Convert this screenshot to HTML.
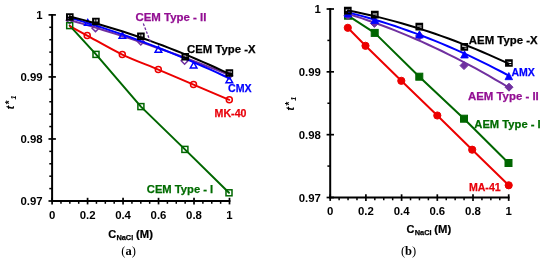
<!DOCTYPE html>
<html><head><meta charset="utf-8"><title>Transport numbers</title>
<style>
html,body{margin:0;padding:0;background:#fff;}
body{width:550px;height:262px;overflow:hidden;}
svg{display:block;}
</style></head><body>
<svg width="550" height="262" viewBox="0 0 550 262" font-family="'Liberation Sans', Arial, sans-serif">
<rect width="550" height="262" fill="#fff"/>
<line x1="52.1" y1="14" x2="52.1" y2="202" stroke="#000" stroke-width="2"/>
<line x1="51.1" y1="201" x2="230.4" y2="201" stroke="#000" stroke-width="2"/>
<line x1="48.5" y1="14.9" x2="55.9" y2="14.9" stroke="#000" stroke-width="1.7"/>
<line x1="49.3" y1="27.31" x2="52.1" y2="27.31" stroke="#000" stroke-width="1.5"/>
<line x1="49.3" y1="39.71" x2="52.1" y2="39.71" stroke="#000" stroke-width="1.5"/>
<line x1="49.3" y1="52.12" x2="52.1" y2="52.12" stroke="#000" stroke-width="1.5"/>
<line x1="49.3" y1="64.53" x2="52.1" y2="64.53" stroke="#000" stroke-width="1.5"/>
<line x1="48.5" y1="76.93" x2="55.9" y2="76.93" stroke="#000" stroke-width="1.7"/>
<line x1="49.3" y1="89.34" x2="52.1" y2="89.34" stroke="#000" stroke-width="1.5"/>
<line x1="49.3" y1="101.75" x2="52.1" y2="101.75" stroke="#000" stroke-width="1.5"/>
<line x1="49.3" y1="114.15" x2="52.1" y2="114.15" stroke="#000" stroke-width="1.5"/>
<line x1="49.3" y1="126.56" x2="52.1" y2="126.56" stroke="#000" stroke-width="1.5"/>
<line x1="48.5" y1="138.97" x2="55.9" y2="138.97" stroke="#000" stroke-width="1.7"/>
<line x1="49.3" y1="151.37" x2="52.1" y2="151.37" stroke="#000" stroke-width="1.5"/>
<line x1="49.3" y1="163.78" x2="52.1" y2="163.78" stroke="#000" stroke-width="1.5"/>
<line x1="49.3" y1="176.19" x2="52.1" y2="176.19" stroke="#000" stroke-width="1.5"/>
<line x1="49.3" y1="188.59" x2="52.1" y2="188.59" stroke="#000" stroke-width="1.5"/>
<line x1="48.5" y1="201" x2="55.9" y2="201" stroke="#000" stroke-width="1.7"/>
<text x="42.6" y="18.9" font-size="11.4" fill="#000" text-anchor="end" font-weight="bold" >1</text>
<text x="42.6" y="80.93" font-size="11.4" fill="#000" text-anchor="end" font-weight="bold" >0.99</text>
<text x="42.6" y="142.97" font-size="11.4" fill="#000" text-anchor="end" font-weight="bold" >0.98</text>
<text x="42.6" y="205" font-size="11.4" fill="#000" text-anchor="end" font-weight="bold" >0.97</text>
<line x1="52.1" y1="197.8" x2="52.1" y2="204.4" stroke="#000" stroke-width="1.7"/>
<line x1="60.97" y1="201" x2="60.97" y2="203.8" stroke="#000" stroke-width="1.5"/>
<line x1="69.84" y1="201" x2="69.84" y2="203.8" stroke="#000" stroke-width="1.5"/>
<line x1="78.71" y1="201" x2="78.71" y2="203.8" stroke="#000" stroke-width="1.5"/>
<text x="52.1" y="218.6" font-size="11.4" fill="#000" text-anchor="middle" font-weight="bold" >0</text>
<line x1="87.58" y1="197.8" x2="87.58" y2="204.4" stroke="#000" stroke-width="1.7"/>
<line x1="96.45" y1="201" x2="96.45" y2="203.8" stroke="#000" stroke-width="1.5"/>
<line x1="105.32" y1="201" x2="105.32" y2="203.8" stroke="#000" stroke-width="1.5"/>
<line x1="114.19" y1="201" x2="114.19" y2="203.8" stroke="#000" stroke-width="1.5"/>
<text x="87.58" y="218.6" font-size="11.4" fill="#000" text-anchor="middle" font-weight="bold" >0.2</text>
<line x1="123.06" y1="197.8" x2="123.06" y2="204.4" stroke="#000" stroke-width="1.7"/>
<line x1="131.93" y1="201" x2="131.93" y2="203.8" stroke="#000" stroke-width="1.5"/>
<line x1="140.8" y1="201" x2="140.8" y2="203.8" stroke="#000" stroke-width="1.5"/>
<line x1="149.67" y1="201" x2="149.67" y2="203.8" stroke="#000" stroke-width="1.5"/>
<text x="123.06" y="218.6" font-size="11.4" fill="#000" text-anchor="middle" font-weight="bold" >0.4</text>
<line x1="158.54" y1="197.8" x2="158.54" y2="204.4" stroke="#000" stroke-width="1.7"/>
<line x1="167.41" y1="201" x2="167.41" y2="203.8" stroke="#000" stroke-width="1.5"/>
<line x1="176.28" y1="201" x2="176.28" y2="203.8" stroke="#000" stroke-width="1.5"/>
<line x1="185.15" y1="201" x2="185.15" y2="203.8" stroke="#000" stroke-width="1.5"/>
<text x="158.54" y="218.6" font-size="11.4" fill="#000" text-anchor="middle" font-weight="bold" >0.6</text>
<line x1="194.02" y1="197.8" x2="194.02" y2="204.4" stroke="#000" stroke-width="1.7"/>
<line x1="202.89" y1="201" x2="202.89" y2="203.8" stroke="#000" stroke-width="1.5"/>
<line x1="211.76" y1="201" x2="211.76" y2="203.8" stroke="#000" stroke-width="1.5"/>
<line x1="220.63" y1="201" x2="220.63" y2="203.8" stroke="#000" stroke-width="1.5"/>
<text x="194.02" y="218.6" font-size="11.4" fill="#000" text-anchor="middle" font-weight="bold" >0.8</text>
<line x1="229.5" y1="197.8" x2="229.5" y2="204.4" stroke="#000" stroke-width="1.7"/>
<text x="229.5" y="218.6" font-size="11.4" fill="#000" text-anchor="middle" font-weight="bold" >1</text>
<line x1="330.2" y1="8.1" x2="330.2" y2="198.5" stroke="#000" stroke-width="2"/>
<line x1="329.2" y1="197.5" x2="509.6" y2="197.5" stroke="#000" stroke-width="2"/>
<line x1="326.6" y1="9" x2="334" y2="9" stroke="#000" stroke-width="1.7"/>
<line x1="327.4" y1="40.42" x2="330.2" y2="40.42" stroke="#000" stroke-width="1.5"/>
<line x1="326.6" y1="71.83" x2="334" y2="71.83" stroke="#000" stroke-width="1.7"/>
<line x1="327.4" y1="103.25" x2="330.2" y2="103.25" stroke="#000" stroke-width="1.5"/>
<line x1="326.6" y1="134.67" x2="334" y2="134.67" stroke="#000" stroke-width="1.7"/>
<line x1="327.4" y1="166.08" x2="330.2" y2="166.08" stroke="#000" stroke-width="1.5"/>
<line x1="326.6" y1="197.5" x2="334" y2="197.5" stroke="#000" stroke-width="1.7"/>
<text x="320.9" y="13" font-size="11.4" fill="#000" text-anchor="end" font-weight="bold" >1</text>
<text x="320.9" y="75.83" font-size="11.4" fill="#000" text-anchor="end" font-weight="bold" >0.99</text>
<text x="320.9" y="138.67" font-size="11.4" fill="#000" text-anchor="end" font-weight="bold" >0.98</text>
<text x="320.9" y="201.5" font-size="11.4" fill="#000" text-anchor="end" font-weight="bold" >0.97</text>
<line x1="330.2" y1="194.3" x2="330.2" y2="200.9" stroke="#000" stroke-width="1.7"/>
<line x1="339.12" y1="197.5" x2="339.12" y2="200.3" stroke="#000" stroke-width="1.5"/>
<line x1="348.05" y1="197.5" x2="348.05" y2="200.3" stroke="#000" stroke-width="1.5"/>
<line x1="356.97" y1="197.5" x2="356.97" y2="200.3" stroke="#000" stroke-width="1.5"/>
<text x="330.2" y="214.7" font-size="11.4" fill="#000" text-anchor="middle" font-weight="bold" >0</text>
<line x1="365.9" y1="194.3" x2="365.9" y2="200.9" stroke="#000" stroke-width="1.7"/>
<line x1="374.82" y1="197.5" x2="374.82" y2="200.3" stroke="#000" stroke-width="1.5"/>
<line x1="383.75" y1="197.5" x2="383.75" y2="200.3" stroke="#000" stroke-width="1.5"/>
<line x1="392.67" y1="197.5" x2="392.67" y2="200.3" stroke="#000" stroke-width="1.5"/>
<text x="365.9" y="214.7" font-size="11.4" fill="#000" text-anchor="middle" font-weight="bold" >0.2</text>
<line x1="401.6" y1="194.3" x2="401.6" y2="200.9" stroke="#000" stroke-width="1.7"/>
<line x1="410.53" y1="197.5" x2="410.53" y2="200.3" stroke="#000" stroke-width="1.5"/>
<line x1="419.45" y1="197.5" x2="419.45" y2="200.3" stroke="#000" stroke-width="1.5"/>
<line x1="428.38" y1="197.5" x2="428.38" y2="200.3" stroke="#000" stroke-width="1.5"/>
<text x="401.6" y="214.7" font-size="11.4" fill="#000" text-anchor="middle" font-weight="bold" >0.4</text>
<line x1="437.3" y1="194.3" x2="437.3" y2="200.9" stroke="#000" stroke-width="1.7"/>
<line x1="446.23" y1="197.5" x2="446.23" y2="200.3" stroke="#000" stroke-width="1.5"/>
<line x1="455.15" y1="197.5" x2="455.15" y2="200.3" stroke="#000" stroke-width="1.5"/>
<line x1="464.07" y1="197.5" x2="464.07" y2="200.3" stroke="#000" stroke-width="1.5"/>
<text x="437.3" y="214.7" font-size="11.4" fill="#000" text-anchor="middle" font-weight="bold" >0.6</text>
<line x1="473" y1="194.3" x2="473" y2="200.9" stroke="#000" stroke-width="1.7"/>
<line x1="481.93" y1="197.5" x2="481.93" y2="200.3" stroke="#000" stroke-width="1.5"/>
<line x1="490.85" y1="197.5" x2="490.85" y2="200.3" stroke="#000" stroke-width="1.5"/>
<line x1="499.77" y1="197.5" x2="499.77" y2="200.3" stroke="#000" stroke-width="1.5"/>
<text x="473" y="214.7" font-size="11.4" fill="#000" text-anchor="middle" font-weight="bold" >0.8</text>
<line x1="508.7" y1="194.3" x2="508.7" y2="200.9" stroke="#000" stroke-width="1.7"/>
<text x="508.7" y="214.7" font-size="11.4" fill="#000" text-anchor="middle" font-weight="bold" >1</text>
<text x="108.3" y="238.4" font-size="11" font-weight="bold" fill="#000" stroke="#000" stroke-width="0.2">C</text>
<text x="116.4" y="240.1" font-size="7.6" font-weight="bold" fill="#000" stroke="#000" stroke-width="0.25" textLength="16.9" lengthAdjust="spacingAndGlyphs">NaCl</text>
<text x="136" y="238.3" font-size="11.3" font-weight="bold" fill="#000" stroke="#000" stroke-width="0.2" textLength="16.9" lengthAdjust="spacingAndGlyphs">(M)</text>
<text x="406.6" y="232.9" font-size="11" font-weight="bold" fill="#000" stroke="#000" stroke-width="0.2">C</text>
<text x="414.7" y="234.6" font-size="7.6" font-weight="bold" fill="#000" stroke="#000" stroke-width="0.25" textLength="16.9" lengthAdjust="spacingAndGlyphs">NaCl</text>
<text x="434.3" y="232.8" font-size="11.3" font-weight="bold" fill="#000" stroke="#000" stroke-width="0.2" textLength="16.9" lengthAdjust="spacingAndGlyphs">(M)</text>
<g transform="translate(14.2 109.6) rotate(-90)" font-weight="bold" fill="#000"><text x="0" y="0" font-size="11.8" font-style="italic">t</text><text x="5.4" y="-1.4" font-size="10">*</text><text x="10.0" y="1.9" font-size="7" font-style="italic">1</text></g>
<g transform="translate(294.2 110.8) rotate(-90)" font-weight="bold" fill="#000"><text x="0" y="0" font-size="11.8" font-style="italic">t</text><text x="5.4" y="-1.4" font-size="10">*</text><text x="10.0" y="1.9" font-size="7" font-style="italic">1</text></g>
<text x="128.6" y="255.2" font-size="12.5" font-weight="bold" text-anchor="middle" font-family="'Liberation Serif', serif" fill="#000"><tspan font-weight="normal">(</tspan>a<tspan font-weight="normal">)</tspan></text>
<text x="408.6" y="255.2" font-size="12.5" font-weight="bold" text-anchor="middle" font-family="'Liberation Serif', serif" fill="#000"><tspan font-weight="normal">(</tspan>b<tspan font-weight="normal">)</tspan></text>
<path d="M69.7 25.6 L96 54.4 L140.9 106.6 L184.9 149.4 L229 192.8" fill="none" stroke="#006600" stroke-width="2" stroke-linejoin="round" stroke-linecap="round" />
<path d="M70.2 26.4 C73.03 27.93 78.52 30.9 87.2 35.6 C95.88 40.3 110.45 48.93 122.3 54.6 C134.15 60.27 146.43 64.6 158.3 69.6 C170.17 74.6 181.67 79.57 193.5 84.6 C205.33 89.63 223.33 97.27 229.3 99.8" fill="none" stroke="#ec0000" stroke-width="2" stroke-linejoin="round" stroke-linecap="round" />
<circle cx="87.2" cy="35.6" r="3" fill="none" stroke="#ec0000" stroke-width="1.5"/>
<circle cx="122.3" cy="54.6" r="3" fill="none" stroke="#ec0000" stroke-width="1.5"/>
<circle cx="158.3" cy="69.6" r="3" fill="none" stroke="#ec0000" stroke-width="1.5"/>
<circle cx="193.5" cy="84.6" r="3" fill="none" stroke="#ec0000" stroke-width="1.5"/>
<circle cx="229.3" cy="99.8" r="3" fill="none" stroke="#ec0000" stroke-width="1.5"/>
<path d="M69.7 20.06 L76.35 21.96 L83 23.9 L89.65 25.88 L96.3 27.88 L102.95 29.92 L109.6 31.99 L116.25 34.1 L122.9 36.24 L129.55 38.41 L136.2 40.62 L142.85 42.86 L149.5 45.13 L156.15 47.43 L162.8 49.77 L169.45 52.15 L176.1 54.55 L182.75 56.99 L189.4 59.47 L196.05 61.97 L202.7 64.51 L209.35 67.08 L216 69.69 L222.65 72.33 L229.3 75" fill="none" stroke="#7030a0" stroke-width="2" stroke-linejoin="round" stroke-linecap="round" />
<polygon points="69.7,16.8 73.1,20.2 69.7,23.6 66.3,20.2" fill="none" stroke="#7030a0" stroke-width="1.5"/>
<polygon points="95.5,24.8 98.9,28.2 95.5,31.6 92.1,28.2" fill="none" stroke="#7030a0" stroke-width="1.5"/>
<polygon points="140.8,38.2 144.2,41.6 140.8,45 137.4,41.6" fill="none" stroke="#7030a0" stroke-width="1.5"/>
<polygon points="184.6,57.4 188,60.8 184.6,64.2 181.2,60.8" fill="none" stroke="#7030a0" stroke-width="1.5"/>
<polygon points="229,72.2 232.4,75.6 229,79 225.6,75.6" fill="none" stroke="#7030a0" stroke-width="1.5"/>
<path d="M69.7 17.71 L76.35 19.65 L83 21.64 L89.65 23.67 L96.3 25.77 L102.95 27.91 L109.6 30.1 L116.25 32.35 L122.9 34.64 L129.55 36.99 L136.2 39.39 L142.85 41.84 L149.5 44.35 L156.15 46.9 L162.8 49.51 L169.45 52.16 L176.1 54.87 L182.75 57.63 L189.4 60.44 L196.05 63.31 L202.7 66.22 L209.35 69.19 L216 72.2 L222.65 75.27 L229.3 78.39" fill="none" stroke="#0000ff" stroke-width="2" stroke-linejoin="round" stroke-linecap="round" />
<polygon points="87.8,19.5 91.1,25.3 84.5,25.3" fill="none" stroke="#0000ff" stroke-width="1.5" stroke-linejoin="miter"/>
<polygon points="122.4,32.5 125.7,38.3 119.1,38.3" fill="none" stroke="#0000ff" stroke-width="1.5" stroke-linejoin="miter"/>
<polygon points="158.4,46.4 161.7,52.2 155.1,52.2" fill="none" stroke="#0000ff" stroke-width="1.5" stroke-linejoin="miter"/>
<polygon points="193.6,62.2 196.9,68 190.3,68" fill="none" stroke="#0000ff" stroke-width="1.5" stroke-linejoin="miter"/>
<polygon points="229.3,76.9 232.6,82.7 226,82.7" fill="none" stroke="#0000ff" stroke-width="1.5" stroke-linejoin="miter"/>
<path d="M69.7 16.51 L76.35 18.17 L83 19.89 L89.65 21.68 L96.3 23.53 L102.95 25.45 L109.6 27.43 L116.25 29.47 L122.9 31.57 L129.55 33.75 L136.2 35.98 L142.85 38.28 L149.5 40.64 L156.15 43.07 L162.8 45.56 L169.45 48.11 L176.1 50.73 L182.75 53.41 L189.4 56.15 L196.05 58.96 L202.7 61.83 L209.35 64.77 L216 67.77 L222.65 70.83 L229.3 73.96" fill="none" stroke="#000" stroke-width="2" stroke-linejoin="round" stroke-linecap="round" />
<path d="M66 13.2H73.6V20.8H66Z M68.2 15.1h0.8v2h-0.8Z M69.7 15.1h0.8v2h-0.8Z M71.1 15.1h0.8v2h-0.8Z M67.8 18.3h1v0.6h-1Z" fill="#000" fill-rule="evenodd"/>
<path d="M92.1 17.7H99.7V25.3H92.1Z M94.3 19.6h0.8v2h-0.8Z M95.8 19.6h0.8v2h-0.8Z M97.2 19.6h0.8v2h-0.8Z M93.9 22.8h1v0.6h-1Z" fill="#000" fill-rule="evenodd"/>
<path d="M137.1 32.5H144.7V40.1H137.1Z M139.3 34.4h0.8v2h-0.8Z M140.8 34.4h0.8v2h-0.8Z M142.2 34.4h0.8v2h-0.8Z M138.9 37.6h1v0.6h-1Z" fill="#000" fill-rule="evenodd"/>
<path d="M181.5 52.9H189.1V60.5H181.5Z M183.7 54.8h0.8v2h-0.8Z M185.2 54.8h0.8v2h-0.8Z M186.6 54.8h0.8v2h-0.8Z M183.3 58h1v0.6h-1Z" fill="#000" fill-rule="evenodd"/>
<path d="M225.6 69.2H233.2V76.8H225.6Z M227.8 71.1h0.8v2h-0.8Z M229.3 71.1h0.8v2h-0.8Z M230.7 71.1h0.8v2h-0.8Z M227.4 74.3h1v0.6h-1Z" fill="#000" fill-rule="evenodd"/>
<rect x="66.7" y="22.6" width="6" height="6" fill="none" stroke="#006600" stroke-width="1.5"/>
<rect x="93" y="51.4" width="6" height="6" fill="none" stroke="#006600" stroke-width="1.5"/>
<rect x="137.9" y="103.6" width="6" height="6" fill="none" stroke="#006600" stroke-width="1.5"/>
<rect x="181.9" y="146.4" width="6" height="6" fill="none" stroke="#006600" stroke-width="1.5"/>
<rect x="226" y="189.8" width="6" height="6" fill="none" stroke="#006600" stroke-width="1.5"/>
<line x1="143.3" y1="23.6" x2="151.0" y2="43.2" stroke="#7030a0" stroke-width="1.3" stroke-dasharray="2.6 1.6"/>
<text x="135.4" y="20.6" font-size="11.5" fill="#930f93" text-anchor="start" font-weight="bold" textLength="71" lengthAdjust="spacingAndGlyphs"  stroke="#930f93" stroke-width="0.25">CEM Type - II</text>
<text x="187" y="52.7" font-size="11.5" fill="#000" text-anchor="start" font-weight="bold" textLength="68.5" lengthAdjust="spacingAndGlyphs"  stroke="#000" stroke-width="0.25">CEM Type -X</text>
<text x="228" y="92" font-size="11.5" fill="#0000ff" text-anchor="start" font-weight="bold" textLength="23.6" lengthAdjust="spacingAndGlyphs"  stroke="#0000ff" stroke-width="0.25">CMX</text>
<text x="214.6" y="116.6" font-size="11.5" fill="#e8000a" text-anchor="start" font-weight="bold" textLength="31.9" lengthAdjust="spacingAndGlyphs"  stroke="#e8000a" stroke-width="0.25">MK-40</text>
<text x="146.8" y="192.9" font-size="11.5" fill="#006c00" text-anchor="start" font-weight="bold" textLength="66.4" lengthAdjust="spacingAndGlyphs"  stroke="#006c00" stroke-width="0.25">CEM Type - I</text>
<path d="M347.8 27.8 L365.5 45.8 L401.3 80.8 L437.3 115.5 L472.2 149.7 L508.7 185.3" fill="none" stroke="#ec0000" stroke-width="2" stroke-linejoin="round" stroke-linecap="round" />
<circle cx="347.8" cy="27.8" r="3.6" fill="#ec0000" stroke="#ec0000" stroke-width="1"/>
<circle cx="365.5" cy="45.8" r="3.6" fill="#ec0000" stroke="#ec0000" stroke-width="1"/>
<circle cx="401.3" cy="80.8" r="3.6" fill="#ec0000" stroke="#ec0000" stroke-width="1"/>
<circle cx="437.3" cy="115.5" r="3.6" fill="#ec0000" stroke="#ec0000" stroke-width="1"/>
<circle cx="472.2" cy="149.7" r="3.6" fill="#ec0000" stroke="#ec0000" stroke-width="1"/>
<circle cx="508.7" cy="185.3" r="3.6" fill="#ec0000" stroke="#ec0000" stroke-width="1"/>
<path d="M348 15.7 L374.7 32.9 L419.3 76.7 L464 118.7 L508.5 163" fill="none" stroke="#006600" stroke-width="2" stroke-linejoin="round" stroke-linecap="round" />
<rect x="344.5" y="12.2" width="7" height="7" fill="#006600" stroke="#006600" stroke-width="1"/>
<rect x="371.2" y="29.4" width="7" height="7" fill="#006600" stroke="#006600" stroke-width="1"/>
<rect x="415.8" y="73.2" width="7" height="7" fill="#006600" stroke="#006600" stroke-width="1"/>
<rect x="460.5" y="115.2" width="7" height="7" fill="#006600" stroke="#006600" stroke-width="1"/>
<rect x="505" y="159.5" width="7" height="7" fill="#006600" stroke="#006600" stroke-width="1"/>
<path d="M348 13.84 L354.7 15.96 L361.39 18.16 L368.09 20.44 L374.78 22.81 L381.48 25.26 L388.18 27.79 L394.87 30.41 L401.57 33.1 L408.26 35.88 L414.96 38.74 L421.65 41.69 L428.35 44.72 L435.05 47.83 L441.74 51.02 L448.44 54.3 L455.13 57.66 L461.83 61.1 L468.52 64.62 L475.22 68.23 L481.92 71.92 L488.61 75.69 L495.31 79.54 L502 83.48 L508.7 87.5" fill="none" stroke="#7030a0" stroke-width="2" stroke-linejoin="round" stroke-linecap="round" />
<polygon points="348,11.6 352,15.6 348,19.6 344,15.6" fill="#7030a0" stroke="#7030a0" stroke-width="1"/>
<polygon points="374.4,19.4 378.4,23.4 374.4,27.4 370.4,23.4" fill="#7030a0" stroke="#7030a0" stroke-width="1"/>
<polygon points="419.5,32 423.5,36 419.5,40 415.5,36" fill="#7030a0" stroke="#7030a0" stroke-width="1"/>
<polygon points="464,61.6 468,65.6 464,69.6 460,65.6" fill="#7030a0" stroke="#7030a0" stroke-width="1"/>
<polygon points="509,83.2 513,87.2 509,91.2 505,87.2" fill="#7030a0" stroke="#7030a0" stroke-width="1"/>
<path d="M348 12.39 L354.7 14.1 L361.39 15.9 L368.09 17.77 L374.78 19.72 L381.48 21.76 L388.18 23.87 L394.87 26.06 L401.57 28.34 L408.26 30.69 L414.96 33.12 L421.65 35.63 L428.35 38.23 L435.05 40.9 L441.74 43.65 L448.44 46.48 L455.13 49.39 L461.83 52.38 L468.52 55.45 L475.22 58.6 L481.92 61.83 L488.61 65.14 L495.31 68.53 L502 72 L508.7 75.55" fill="none" stroke="#0000ff" stroke-width="2" stroke-linejoin="round" stroke-linecap="round" />
<polygon points="348,9.8 351.8,17 344.2,17" fill="#0000ff" stroke="#0000ff" stroke-width="0.8" stroke-linejoin="miter"/>
<polygon points="374.9,16.2 378.7,23.4 371.1,23.4" fill="#0000ff" stroke="#0000ff" stroke-width="0.8" stroke-linejoin="miter"/>
<polygon points="419.5,30.8 423.3,38 415.7,38" fill="#0000ff" stroke="#0000ff" stroke-width="0.8" stroke-linejoin="miter"/>
<polygon points="464.5,50.8 468.3,58 460.7,58" fill="#0000ff" stroke="#0000ff" stroke-width="0.8" stroke-linejoin="miter"/>
<polygon points="508.8,72.5 512.6,79.7 505,79.7" fill="#0000ff" stroke="#0000ff" stroke-width="0.8" stroke-linejoin="miter"/>
<path d="M348 10.47 L354.7 11.8 L361.39 13.21 L368.09 14.69 L374.78 16.25 L381.48 17.89 L388.18 19.6 L394.87 21.39 L401.57 23.26 L408.26 25.21 L414.96 27.23 L421.65 29.34 L428.35 31.51 L435.05 33.77 L441.74 36.11 L448.44 38.52 L455.13 41.01 L461.83 43.57 L468.52 46.22 L475.22 48.94 L481.92 51.73 L488.61 54.61 L495.31 57.56 L502 60.59 L508.7 63.7" fill="none" stroke="#000" stroke-width="2" stroke-linejoin="round" stroke-linecap="round" />
<path d="M343.95 6.85H351.65V14.55H343.95Z M345.7 9.5h4.4v1.2h-4.4Z M348 11.6h2.2v0.8h-2.2Z" fill="#000" fill-rule="evenodd"/>
<path d="M370.95 10.75H378.65V18.45H370.95Z M372.7 13.4h4.4v1.2h-4.4Z M375 15.5h2.2v0.8h-2.2Z" fill="#000" fill-rule="evenodd"/>
<path d="M415.45 22.75H423.15V30.45H415.45Z M417.2 25.4h4.4v1.2h-4.4Z M419.5 27.5h2.2v0.8h-2.2Z" fill="#000" fill-rule="evenodd"/>
<path d="M460.45 42.95H468.15V50.65H460.45Z M462.2 45.6h4.4v1.2h-4.4Z M464.5 47.7h2.2v0.8h-2.2Z" fill="#000" fill-rule="evenodd"/>
<path d="M505.05 59.15H512.75V66.85H505.05Z M506.8 61.8h4.4v1.2h-4.4Z M509.1 63.9h2.2v0.8h-2.2Z" fill="#000" fill-rule="evenodd"/>
<text x="468.8" y="43.5" font-size="11.5" fill="#000" text-anchor="start" font-weight="bold" textLength="68.8" lengthAdjust="spacingAndGlyphs"  stroke="#000" stroke-width="0.25">AEM Type -X</text>
<text x="511.4" y="76" font-size="11.5" fill="#0000ff" text-anchor="start" font-weight="bold" textLength="23.4" lengthAdjust="spacingAndGlyphs"  stroke="#0000ff" stroke-width="0.25">AMX</text>
<text x="467.9" y="99.9" font-size="11.5" fill="#930f93" text-anchor="start" font-weight="bold" textLength="70.9" lengthAdjust="spacingAndGlyphs"  stroke="#930f93" stroke-width="0.25">AEM Type - II</text>
<text x="474.3" y="128.2" font-size="11.5" fill="#006c00" text-anchor="start" font-weight="bold" textLength="66.4" lengthAdjust="spacingAndGlyphs"  stroke="#006c00" stroke-width="0.25">AEM Type - I</text>
<text x="468.9" y="191.2" font-size="11.5" fill="#e8000a" text-anchor="start" font-weight="bold" textLength="31.8" lengthAdjust="spacingAndGlyphs"  stroke="#e8000a" stroke-width="0.25">MA-41</text>
</svg>
</body></html>
